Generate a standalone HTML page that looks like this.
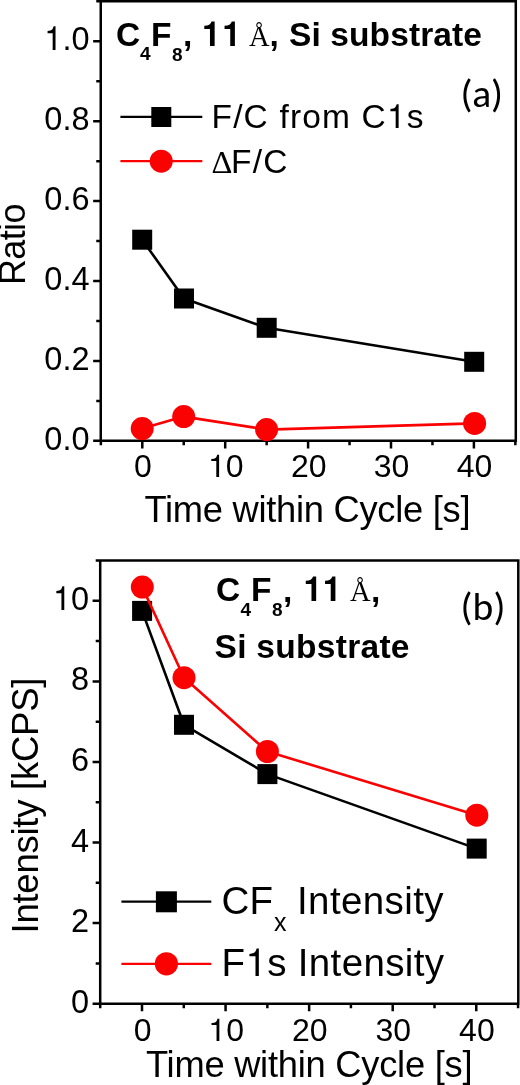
<!DOCTYPE html>
<html><head><meta charset="utf-8"><title>C4F8 ratio and intensity plots</title>
<style>
html,body{margin:0;padding:0;background:#fff;}
body{width:520px;height:1085px;overflow:hidden;}
svg{display:block;}
text{font-family:'Liberation Sans', Arial, Helvetica, sans-serif;fill:#000;}
.one{font-family:FreeSans,'Liberation Sans', Arial, Helvetica, sans-serif;}
</style></head>
<body>
<svg width="520" height="1085" viewBox="0 0 520 1085">
<rect width="520" height="1085" fill="#fff"/>
<path d="M100.75 1.35H515.80V440.85H100.75Z M93.15 440.85H100.75 M93.15 360.94H100.75 M93.15 281.03H100.75 M93.15 201.12H100.75 M93.15 121.21H100.75 M93.15 41.30H100.75 M96.25 400.90H100.75 M96.25 320.99H100.75 M96.25 241.08H100.75 M96.25 161.17H100.75 M96.25 81.25H100.75 M96.25 1.34H100.75 M142.30 440.85V448.45 M225.20 440.85V448.45 M308.10 440.85V448.45 M391.00 440.85V448.45 M473.90 440.85V448.45 M100.85 440.85V445.35 M183.75 440.85V445.35 M266.65 440.85V445.35 M349.55 440.85V445.35 M432.45 440.85V445.35 M515.35 440.85V445.35" stroke="#000" stroke-width="2.5" fill="none" stroke-linecap="butt" stroke-linejoin="miter"/>
<text x="89.5" y="449.85" text-anchor="end" font-size="32.5">0.0</text>
<text x="89.5" y="369.94" text-anchor="end" font-size="32.5">0.2</text>
<text x="89.5" y="290.03" text-anchor="end" font-size="32.5">0.4</text>
<text x="89.5" y="210.12" text-anchor="end" font-size="32.5">0.6</text>
<text x="89.5" y="130.21" text-anchor="end" font-size="32.5">0.8</text>
<text x="89.5" y="50.30" text-anchor="end" font-size="32.5"><tspan class="one">1</tspan>.0</text>
<text x="142.90" y="477.3" text-anchor="middle" font-size="32">0</text>
<text x="225.80" y="477.3" text-anchor="middle" font-size="32"><tspan class="one">1</tspan>0</text>
<text x="308.70" y="477.3" text-anchor="middle" font-size="32">20</text>
<text x="391.60" y="477.3" text-anchor="middle" font-size="32">30</text>
<text x="474.50" y="477.3" text-anchor="middle" font-size="32">40</text>
<path d="M142.20 239.70 L184.00 298.50 L266.70 327.80 L474.20 361.80" stroke="#000" stroke-width="2.6" fill="none" stroke-linejoin="round"/>
<rect x="132.20" y="229.70" width="20" height="20" fill="#000"/>
<rect x="174.00" y="288.50" width="20" height="20" fill="#000"/>
<rect x="256.70" y="317.80" width="20" height="20" fill="#000"/>
<rect x="464.20" y="351.80" width="20" height="20" fill="#000"/>
<path d="M142.20 428.60 L183.70 416.60 L266.60 429.60 L474.60 423.40" stroke="#fa0202" stroke-width="2.6" fill="none" stroke-linejoin="round"/>
<circle cx="142.20" cy="428.60" r="11.5" fill="#fa0202"/>
<circle cx="183.70" cy="416.60" r="11.5" fill="#fa0202"/>
<circle cx="266.60" cy="429.60" r="11.5" fill="#fa0202"/>
<circle cx="474.60" cy="423.40" r="11.5" fill="#fa0202"/>
<path d="M120.4 116.9H202.3" stroke="#000" stroke-width="2.2"/>
<rect x="151.3" y="107" width="20" height="20" fill="#000"/>
<path d="M120.4 161.2H202.3" stroke="#fa0202" stroke-width="2.2"/>
<circle cx="161.2" cy="161.2" r="11.5" fill="#fa0202"/>
<path d="M100.20 560.50H518.30V1003.70H100.20Z M92.60 1003.70H100.20 M92.60 923.12H100.20 M92.60 842.54H100.20 M92.60 761.96H100.20 M92.60 681.38H100.20 M92.60 600.80H100.20 M95.70 963.41H100.20 M95.70 882.83H100.20 M95.70 802.25H100.20 M95.70 721.67H100.20 M95.70 641.09H100.20 M95.70 560.51H100.20 M142.00 1003.70V1011.30 M225.57 1003.70V1011.30 M309.14 1003.70V1011.30 M392.71 1003.70V1011.30 M476.28 1003.70V1011.30 M100.22 1003.70V1008.20 M183.78 1003.70V1008.20 M267.36 1003.70V1008.20 M350.92 1003.70V1008.20 M434.50 1003.70V1008.20 M518.06 1003.70V1008.20" stroke="#000" stroke-width="2.5" fill="none" stroke-linecap="butt" stroke-linejoin="miter"/>
<text x="89.2" y="1012.70" text-anchor="end" font-size="32.5">0</text>
<text x="89.2" y="932.12" text-anchor="end" font-size="32.5">2</text>
<text x="89.2" y="851.54" text-anchor="end" font-size="32.5">4</text>
<text x="89.2" y="770.96" text-anchor="end" font-size="32.5">6</text>
<text x="89.2" y="690.38" text-anchor="end" font-size="32.5">8</text>
<text x="89.2" y="609.80" text-anchor="end" font-size="32.5"><tspan class="one">1</tspan>0</text>
<text x="142.60" y="1040.6" text-anchor="middle" font-size="32">0</text>
<text x="226.17" y="1040.6" text-anchor="middle" font-size="32"><tspan class="one">1</tspan>0</text>
<text x="309.74" y="1040.6" text-anchor="middle" font-size="32">20</text>
<text x="393.31" y="1040.6" text-anchor="middle" font-size="32">30</text>
<text x="476.88" y="1040.6" text-anchor="middle" font-size="32">40</text>
<path d="M142.10 610.90 L184.00 724.80 L267.40 774.10 L476.70 848.60" stroke="#000" stroke-width="2.6" fill="none" stroke-linejoin="round"/>
<rect x="132.10" y="600.90" width="20" height="20" fill="#000"/>
<rect x="174.00" y="714.80" width="20" height="20" fill="#000"/>
<rect x="257.40" y="764.10" width="20" height="20" fill="#000"/>
<rect x="466.70" y="838.60" width="20" height="20" fill="#000"/>
<path d="M142.30 587.10 L184.00 677.70 L267.40 751.50 L476.80 815.20" stroke="#fa0202" stroke-width="2.6" fill="none" stroke-linejoin="round"/>
<circle cx="142.30" cy="587.10" r="11.5" fill="#fa0202"/>
<circle cx="184.00" cy="677.70" r="11.5" fill="#fa0202"/>
<circle cx="267.40" cy="751.50" r="11.5" fill="#fa0202"/>
<circle cx="476.80" cy="815.20" r="11.5" fill="#fa0202"/>
<path d="M121.4 901.7H211.3" stroke="#000" stroke-width="2.2"/>
<rect x="155.9" y="891.3" width="21" height="21" fill="#000"/>
<path d="M121.4 963.8H211.3" stroke="#fa0202" stroke-width="2.2"/>
<circle cx="166.4" cy="963.8" r="11.6" fill="#fa0202"/>
<text id="ta1" x="116.00" y="45.70" style="font-family:'Liberation Sans', Arial, Helvetica, sans-serif;font-weight:bold;font-size:33.5px">C</text>
<text id="ta2" x="140.00" y="60.40" style="font-family:'Liberation Sans', Arial, Helvetica, sans-serif;font-weight:bold;font-size:19px">4</text>
<text id="ta3" x="151.00" y="45.70" style="font-family:'Liberation Sans', Arial, Helvetica, sans-serif;font-weight:bold;font-size:33.5px">F</text>
<text id="ta4" x="172.00" y="60.60" style="font-family:'Liberation Sans', Arial, Helvetica, sans-serif;font-weight:bold;font-size:19px">8</text>
<text id="ta5" x="183.00" y="45.70" style="font-family:'Liberation Sans', Arial, Helvetica, sans-serif;font-weight:bold;font-size:33.5px">,</text>
<text id="ta6" x="202.00" y="45.90" style="font-family:'Liberation Sans', Arial, Helvetica, sans-serif;font-weight:bold;font-size:33.5px" textLength="39.00" lengthAdjust="spacing"><tspan class="one">1</tspan><tspan class="one">1</tspan></text>
<text id="ta7" x="249.00" y="45.90" style="font-family:'Liberation Serif', 'Times New Roman', serif;font-weight:normal;font-size:28.5px">Å</text>
<text id="ta8" x="269.50" y="45.70" style="font-family:'Liberation Sans', Arial, Helvetica, sans-serif;font-weight:bold;font-size:33.5px">,</text>
<text id="ta9" x="289.00" y="45.90" style="font-family:'Liberation Sans', Arial, Helvetica, sans-serif;font-weight:bold;font-size:33.5px" textLength="193.00" lengthAdjust="spacing">Si substrate</text>
<text id="tb1" x="216.00" y="601.20" style="font-family:'Liberation Sans', Arial, Helvetica, sans-serif;font-weight:bold;font-size:33.5px">C</text>
<text id="tb2" x="240.50" y="615.90" style="font-family:'Liberation Sans', Arial, Helvetica, sans-serif;font-weight:bold;font-size:19px">4</text>
<text id="tb3" x="251.00" y="601.00" style="font-family:'Liberation Sans', Arial, Helvetica, sans-serif;font-weight:bold;font-size:33.5px">F</text>
<text id="tb4" x="272.00" y="616.00" style="font-family:'Liberation Sans', Arial, Helvetica, sans-serif;font-weight:bold;font-size:19px">8</text>
<text id="tb5" x="283.00" y="601.50" style="font-family:'Liberation Sans', Arial, Helvetica, sans-serif;font-weight:bold;font-size:33.5px">,</text>
<text id="tb6" x="303.50" y="601.20" style="font-family:'Liberation Sans', Arial, Helvetica, sans-serif;font-weight:bold;font-size:33.5px" textLength="38.00" lengthAdjust="spacing"><tspan class="one">1</tspan><tspan class="one">1</tspan></text>
<text id="tb7" x="350.00" y="601.20" style="font-family:'Liberation Serif', 'Times New Roman', serif;font-weight:normal;font-size:28.5px">Å</text>
<text id="tb8" x="371.00" y="601.50" style="font-family:'Liberation Sans', Arial, Helvetica, sans-serif;font-weight:bold;font-size:33.5px">,</text>
<text id="tb9" x="214.50" y="657.60" style="font-family:'Liberation Sans', Arial, Helvetica, sans-serif;font-weight:bold;font-size:33.5px" textLength="195.00" lengthAdjust="spacing">Si substrate</text>
<text id="pa" x="460.50" y="107.10" style="font-family:Carlito, Calibri, 'Liberation Sans', sans-serif;font-weight:normal;font-size:39.5px" textLength="42.50" lengthAdjust="spacing">(a)</text>
<text id="pb" x="460.50" y="620.00" style="font-family:Carlito, Calibri, 'Liberation Sans', sans-serif;font-weight:normal;font-size:39.5px" textLength="45.00" lengthAdjust="spacing">(b)</text>
<text id="la1" x="211.50" y="128.40" style="font-family:'Liberation Sans', Arial, Helvetica, sans-serif;font-weight:normal;font-size:33.5px" textLength="212.00" lengthAdjust="spacing">F/C from C<tspan class="one">1</tspan>s</text>
<text id="la2" x="211.50" y="173.30" style="font-family:'Liberation Serif', 'Times New Roman', serif;font-weight:normal;font-size:32.5px">Δ</text>
<text id="la3" x="231.00" y="173.00" style="font-family:'Liberation Sans', Arial, Helvetica, sans-serif;font-weight:normal;font-size:33.5px" textLength="56.50" lengthAdjust="spacing">F/C</text>
<text id="lb1" x="221.50" y="914.20" style="font-family:'Liberation Sans', Arial, Helvetica, sans-serif;font-weight:normal;font-size:38.5px" textLength="51.50" lengthAdjust="spacing">CF</text>
<text id="lb2" x="274.00" y="931.00" style="font-family:'Liberation Sans', Arial, Helvetica, sans-serif;font-weight:normal;font-size:25px">x</text>
<text id="lb3" x="297.00" y="914.20" style="font-family:'Liberation Sans', Arial, Helvetica, sans-serif;font-weight:normal;font-size:38.5px" textLength="146.50" lengthAdjust="spacing">Intensity</text>
<text id="lb4" x="221.50" y="976.40" style="font-family:'Liberation Sans', Arial, Helvetica, sans-serif;font-weight:normal;font-size:38.5px" textLength="222.50" lengthAdjust="spacing">F<tspan class="one">1</tspan>s Intensity</text>
<text id="xa" x="144.50" y="521.60" style="font-family:'Liberation Sans', Arial, Helvetica, sans-serif;font-weight:normal;font-size:36.3px" textLength="326.00" lengthAdjust="spacing">Time within Cycle [s]</text>
<text id="xb" x="146.00" y="1076.60" style="font-family:'Liberation Sans', Arial, Helvetica, sans-serif;font-weight:normal;font-size:36.3px" textLength="326.50" lengthAdjust="spacing">Time within Cycle [s]</text>
<text id="ya" transform="translate(24.60,285.00) rotate(-90)" style="font-family:'Liberation Sans', Arial, Helvetica, sans-serif;font-weight:normal;font-size:36px" textLength="81.50" lengthAdjust="spacing">Ratio</text>
<text id="yb" transform="translate(38.40,933.50) rotate(-90)" style="font-family:'Liberation Sans', Arial, Helvetica, sans-serif;font-weight:normal;font-size:36.5px" textLength="256.00" lengthAdjust="spacing">Intensity [kCPS]</text>
</svg>
</body></html>
